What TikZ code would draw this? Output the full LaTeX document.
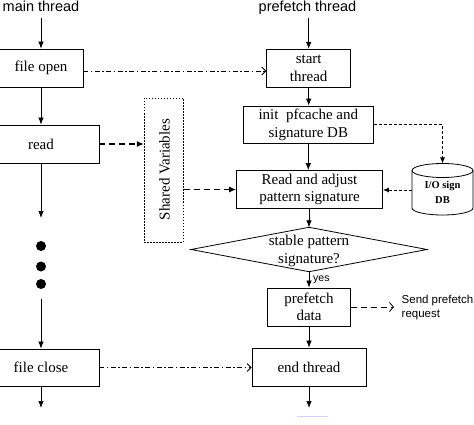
\documentclass[tikz,border=0pt]{standalone}
\usepackage{fontspec}
\setmainfont{Liberation Serif}
\setsansfont{Liberation Sans}
\usetikzlibrary{arrows.meta}
\begin{document}
\begin{tikzpicture}[x=1pt,y=-1pt,
  box/.style={draw, line width=0.8pt, align=center, inner sep=0pt, font=\fontsize{15}{17.5}\selectfont},
  ttl/.style={font=\sffamily\fontsize{14.5}{17}\selectfont, anchor=base},
  flow/.style={line width=0.7pt, -{Latex[length=7pt,width=5.5pt]}},
  dashdot/.style={line width=0.8pt, dash pattern=on 5pt off 2.5pt on 1.5pt off 2.5pt, -{Straight Barb[length=4pt,width=8pt]}},
  bigdash/.style={line width=1.3pt, dash pattern=on 6pt off 4pt, -{Latex[length=7pt,width=6pt]}},
  smalldash/.style={line width=0.9pt, dash pattern=on 3pt off 2pt, -{Latex[length=6pt,width=5pt]}},
  senddash/.style={line width=0.8pt, dash pattern=on 6pt off 4pt, -{Straight Barb[length=4pt,width=9pt]}},
  dot/.style={circle, fill, inner sep=0pt, minimum size=10pt},
  dotbox/.style={draw, line width=0.8pt, dash pattern=on 1.5pt off 1.5pt}
]
\useasboundingbox (0,0) rectangle (474,425);

% ---- main thread column
\node[ttl] (mt) at (41,12) {main thread};
\coordinate (mt0) at (41,18);
\node[box, minimum width=84pt, minimum height=38pt] (fo) at (41,68) {file open};
\node[box, minimum width=116pt, minimum height=38pt] (rd) at (41,144) {read};
\coordinate (c1) at (41,218);
\node[dot] (d1) at (41,246) {};
\node[dot] (d2) at (41,266.5) {};
\node[dot] (d3) at (41,284) {};
\coordinate (c2) at (41,299);
\node[box, minimum width=116pt, minimum height=37pt] (fc) at (41,367.5) {file close};
\coordinate (c3) at (41,408);

\draw[flow] (mt0) -- (fo);
\draw[flow] (fo) -- (rd);
\draw[flow] (rd) -- (c1);
\draw[flow] (c2) -- (fc);
\draw[flow] (fc) -- (c3);

% ---- shared variables
\node[dotbox, minimum width=39pt, minimum height=144pt] (sv) at (163.8,170) {};
\node[rotate=90, font=\fontsize{15}{17}\selectfont] (svt) at (164.5,169.5) {Shared Variables};

% ---- prefetch thread column
\node[ttl] (pt) at (307.5,12) {prefetch thread};
\coordinate (p0) at (308.7,18);
\node[box, minimum width=84pt, minimum height=38.5pt] (st) at (308.7,68.5) {start\\thread};
\node[box, minimum width=130pt, minimum height=37.5pt] (init) at (308.3,124.7) {init\enspace pfcache and\\signature DB};
\node[box, minimum width=146pt, minimum height=38pt] (ra) at (309.5,189.5) {Read and adjust\\pattern signature};
\coordinate (dtop) at (309,227.3);
\coordinate (dbot) at (309,271.7);
\coordinate (dleft) at (191,249.5);
\coordinate (dright) at (427,249.5);
\draw[line width=0.8pt] (dtop) -- (dright) -- (dbot) -- (dleft) -- cycle;
\node[align=center, inner sep=0pt, font=\fontsize{15}{18}\selectfont] (dq) at (309,251) {stable pattern\\signature?};
\node[box, minimum width=83.5pt, minimum height=38pt] (pd) at (309,307) {prefetch\\data};
\node[font=\sffamily\fontsize{10.5}{12}\selectfont, anchor=west, inner sep=0pt] (yes) at (313,280) {yes};
\node[box, minimum width=114pt, minimum height=38pt] (et) at (309,367) {end thread};
\coordinate (e0) at (309,408);

\draw[flow] (p0) -- (st);
\draw[flow] (st) -- (st |- init.north);
\draw[flow] (init) -- (init |- ra.north);
\draw[flow] (ra.south -| dtop) -- (dtop);
\draw[flow] (dbot) -- (dbot |- pd.north);
\draw[flow] (pd) -- (et);
\draw[flow] (et) -- (e0);
\draw[blue!18, line width=1.5pt] (297,416.5) -- (328,416.5);

% ---- cylinder
\draw[line width=0.8pt] (412,170.5) -- (412,208) arc[start angle=180, end angle=360, x radius=30.5pt, y radius=7pt] -- (473,170.5);
\draw[line width=0.8pt] (442.5,170.5) ellipse [x radius=30.5pt, y radius=7pt];
\node[align=center, inner sep=0pt, font=\bfseries\fontsize{10.5}{14.5}\selectfont] (db) at (442.5,192.5) {I/O sign\\DB};
\coordinate (cyltop) at (442.5,163.5);
\coordinate (cylleft) at (412,190);

% ---- cross connectors
\draw[dashdot] ([yshift=-3pt]fo.east) -- ([yshift=-3pt]fo.east -| st.west);
\draw[dashdot] (fc.east) -- (fc.east -| et.west);
\draw[bigdash] (rd.east) -- (rd.east -| sv.west);
\draw[bigdash] (sv.east |- ra.west) -- (ra.west);
\draw[smalldash] (init.east) -| (cyltop);
\draw[smalldash] (cylleft) -- (cylleft -| ra.east);
\coordinate (sp) at (394,307);
\draw[senddash] (pd.east) -- (sp);
\node[anchor=west, align=left, inner sep=0pt, font=\sffamily\fontsize{11.5}{14.5}\selectfont] (send) at (401.5,307.5) {Send prefetch\\request};
\end{tikzpicture}
\end{document}
